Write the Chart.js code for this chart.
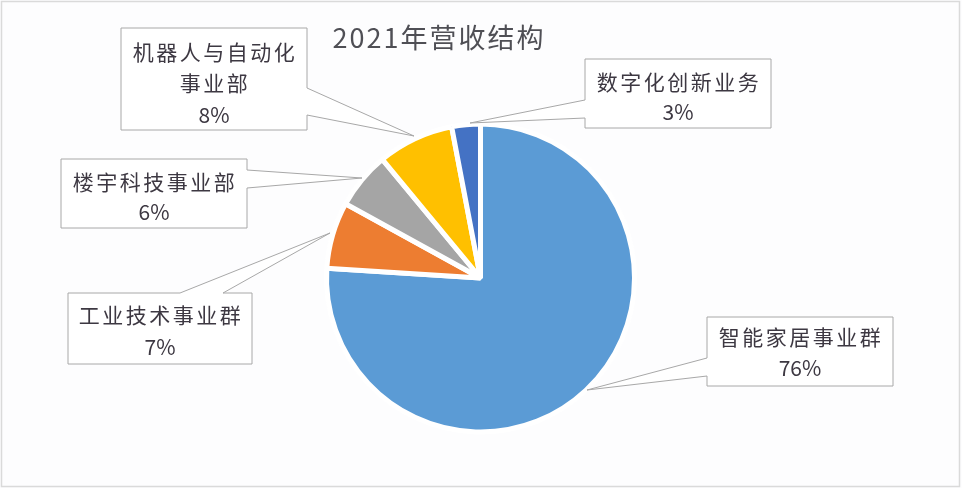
<!DOCTYPE html>
<html>
<head>
<meta charset="utf-8">
<script src="https://cdn.jsdelivr.net/npm/chart.js@4/dist/chart.umd.min.js"></script>
<style>
  html, body { margin: 0; padding: 0; background: #fff; }
  #wrap { width: 962px; height: 488px; }
</style>
</head>
<body>
<div id="wrap"><canvas id="revenueChart" width="962" height="488"></canvas></div>
<script>
const titleText = '2021年营收结构';
const segments = ['智能家居事业群', '工业技术事业群', '楼宇科技事业部', '机器人与自动化事业部', '数字化创新业务'];
const shares = [76, 7, 6, 8, 3];
const colors = ['#5b9bd5', '#ed7d31', '#a5a5a5', '#ffc000', '#4472c4'];

// callout boxes, in the same order as segments
const callouts = [
    { box: [707, 317, 893, 386], side: 'left', base: [358, 376], tip: [587, 390], lines: [337, 368] },
    { box: [68, 293, 252, 364], side: 'top', base: [180, 223], tip: [330, 233], lines: [315, 347] },
    { box: [61, 159, 247, 228], side: 'right', base: [170, 188], tip: [362, 178], lines: [182, 212] },
    { box: [121, 28, 307, 130], side: 'right', base: [88, 115], tip: [414, 136], lines: [52, 83, 115], wrap: 7 },
    { box: [585, 59, 771, 128], side: 'left', base: [100, 118], tip: [470, 123], lines: [82, 112] }
];

const decorPlugin = {
    id: 'decor',
    beforeDraw(chart) {
        const c = chart.ctx;
        c.save();
        c.fillStyle = '#fdfdfe';
        c.fillRect(0, 0, chart.width, chart.height);
        c.strokeStyle = '#dadada';
        c.lineWidth = 1.5;
        c.strokeRect(1.5, 1.5, chart.width - 4, chart.height - 3);
        c.restore();
    },
    afterDraw(chart) {
        const c = chart.ctx;
        c.save();
        // title
        c.fillStyle = '#4f4f55';
        c.font = '27px "Noto Sans CJK SC", sans-serif';
        c.letterSpacing = '2px';
        c.textAlign = 'center';
        c.textBaseline = 'middle';
        c.fillText(titleText, 439, 38);

        callouts.forEach((o, i) => {
            const [x1, y1, x2, y2] = o.box;
            c.beginPath();
            c.moveTo(x1, y1);
            if (o.side === 'top') {
                c.lineTo(o.base[0], y1);
                c.lineTo(o.tip[0], o.tip[1]);
                c.lineTo(o.base[1], y1);
            }
            c.lineTo(x2, y1);
            if (o.side === 'right') {
                c.lineTo(x2, o.base[0]);
                c.lineTo(o.tip[0], o.tip[1]);
                c.lineTo(x2, o.base[1]);
            }
            c.lineTo(x2, y2);
            c.lineTo(x1, y2);
            if (o.side === 'left') {
                c.lineTo(x1, o.base[1]);
                c.lineTo(o.tip[0], o.tip[1]);
                c.lineTo(x1, o.base[0]);
            }
            c.closePath();
            c.fillStyle = '#ffffff';
            c.fill();
            c.strokeStyle = '#a8a8a8';
            c.lineWidth = 1;
            c.stroke();

            const name = segments[i];
            const textLines = o.wrap ? [name.slice(0, o.wrap), name.slice(o.wrap)] : [name];
            const cx = (x1 + x2) / 2;
            c.fillStyle = '#3d3842';
            c.font = '21px "Noto Sans CJK SC", sans-serif';
            c.letterSpacing = '2.5px';
            textLines.forEach((t, k) => c.fillText(t, cx + 1, o.lines[k]));
            c.letterSpacing = '0px';
            c.fillText(shares[i] + '%', cx, o.lines[textLines.length]);
        });
        c.restore();
    }
};

new Chart(document.getElementById('revenueChart'), {
    type: 'pie',
    data: {
        labels: segments,
        datasets: [{
            data: shares,
            backgroundColor: colors,
            borderColor: '#ffffff',
            borderWidth: 5,
            radius: 154
        }]
    },
    options: {
        responsive: false,
        animation: false,
        layout: { padding: { left: 0, right: 1, top: 84, bottom: 16 } },
        plugins: {
            legend: { display: false },
            title: { display: false },
            tooltip: { enabled: false }
        }
    },
    plugins: [decorPlugin]
});
</script>
</body>
</html>
